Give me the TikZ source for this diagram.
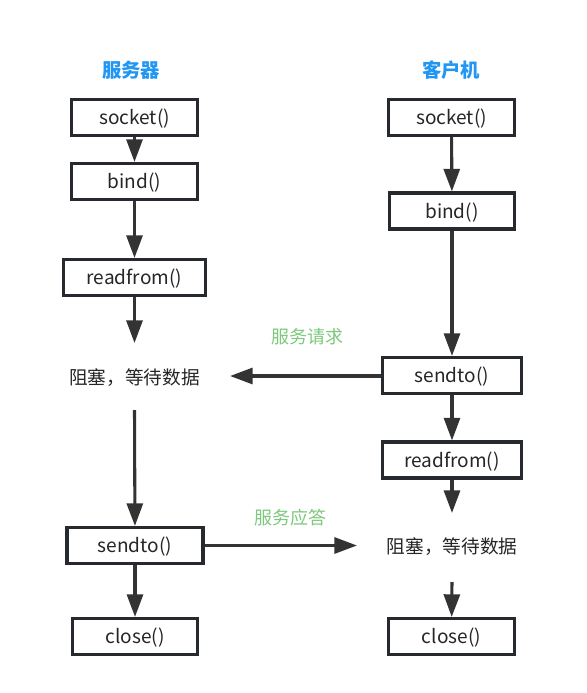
\documentclass[tikz,border=0pt]{standalone}
\usepackage{fontspec}
\setmainfont{Noto Sans CJK SC}
\usetikzlibrary{arrows.meta}
\definecolor{boxline}{HTML}{262A2E}
\definecolor{arrline}{HTML}{333333}
\definecolor{headblue}{HTML}{2196F3}
\definecolor{labgreen}{HTML}{7CC87C}
\tikzset{
  fbox/.style={draw=boxline, line width=2.3pt, fill=white, minimum height=27pt, inner sep=0pt, text height=13pt, text depth=2pt, font=\fontsize{14.3pt}{16pt}\selectfont, text=black!85},
  plain/.style={inner sep=0pt, font=\fontsize{14pt}{16pt}\selectfont, text=black!85},
  head/.style={inner sep=0pt, font=\fontsize{14.5pt}{16pt}\selectfont\bfseries, text=headblue},
  lab/.style={inner sep=0pt, font=\fontsize{13.5pt}{16pt}\selectfont, text=labgreen},
  arr/.style={draw=arrline, line width=2.3pt, -{Triangle[length=17pt,width=12pt]}},
  ln/.style={draw=arrline, line width=2.3pt}
}
\begin{document}
\begin{tikzpicture}[x=0.75pt,y=-0.75pt]
\useasboundingbox (0,0) rectangle (586,693);
% headers
\node[head] (hs) at (131,70) {服务器};
\node[head] (hc) at (451,70) {客户机};
% server column
\node[fbox, minimum width=94pt] (s1) at (134.5,117.5) {socket()};
\node[fbox, minimum width=94pt] (s2) at (134.5,181.5) {bind()};
\node[fbox, minimum width=106pt] (s3) at (134.5,277.5) {readfrom()};
\node[plain] (s4) at (134.5,378) {阻塞，等待数据};
\node[fbox, minimum width=102pt] (s5) at (135,545.5) {sendto()};
\node[fbox, minimum width=94pt] (s6) at (135,636.5) {close()};
\coordinate (s3tip) at (134.5,343);
\coordinate (s4out) at (134.5,410);
% client column
\node[fbox, minimum width=94pt] (c1) at (451.5,117.5) {socket()};
\node[fbox, minimum width=94pt] (c2) at (452,211) {bind()};
\node[fbox, minimum width=104pt] (c3) at (452,375.5) {sendto()};
\node[fbox, minimum width=104pt] (c4) at (452,460) {readfrom()};
\node[plain] (c5) at (452,547) {阻塞，等待数据};
\node[fbox, minimum width=94pt] (c6) at (451.5,636.5) {close()};
\coordinate (c4tip) at (452,513);
\coordinate (c5out) at (452,582);
% cross arrows
\coordinate (reqtip) at (230,376);
\coordinate (resptip) at (357,545.5);
\node[lab] (req) at (307,337) {服务请求};
\node[lab] (resp) at (290,518) {服务应答};
% arrows server
\draw[arr] (s1) -- (s2);
\draw[arr] (s2) -- (s3);
\draw[arr] (s3) -- (s3tip);
\draw[arr] (s4out) -- (s5);
\draw[arr] (s5) -- (s6);
% arrows client
\draw[arr] (c1) -- (c2);
\draw[arr] (c2) -- (c3);
\draw[arr] (c3) -- (c4);
\draw[arr] (c4) -- (c4tip);
\draw[arr] (c5out) -- (c6);
% cross
\draw[arr] (c3.west |- reqtip) -- (reqtip);
\draw[arr] (s5.east) -- (resptip);
\end{tikzpicture}
\end{document}
